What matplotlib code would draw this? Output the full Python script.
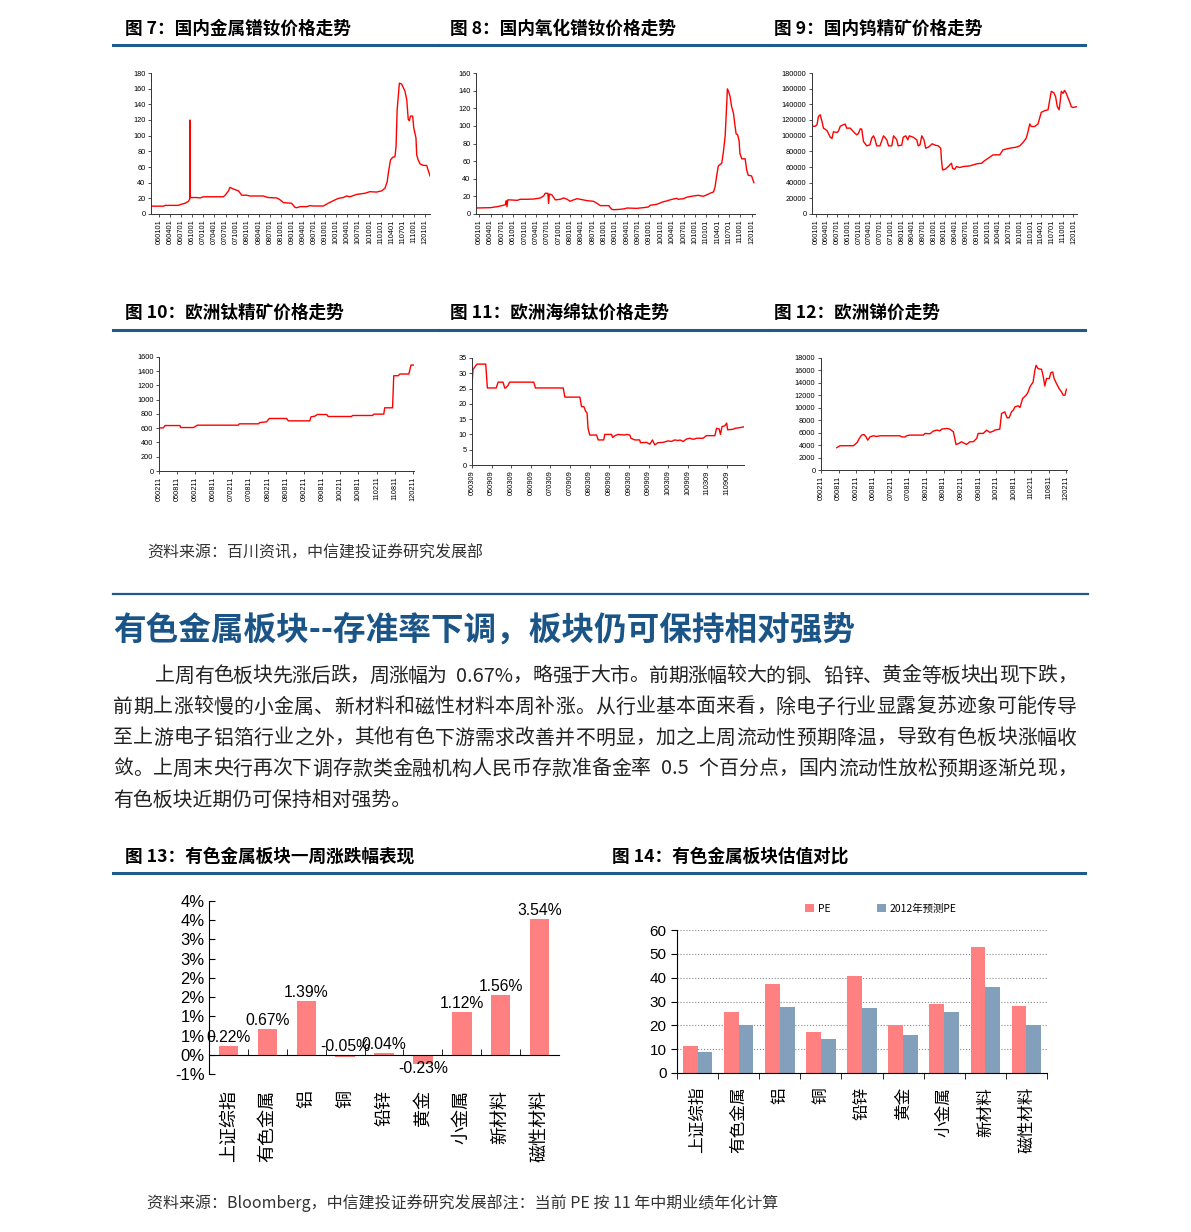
import re
import numpy as np
import matplotlib
matplotlib.use("Agg")
import matplotlib.pyplot as plt
from matplotlib.lines import Line2D
from matplotlib.ticker import FormatStrFormatter

plt.rcParams['font.family'] = ['Noto Sans CJK SC', 'DejaVu Sans']
plt.rcParams['axes.unicode_minus'] = False

W, H = 1191, 1232
NUM_FONT = ['Liberation Sans', 'DejaVu Sans']
RED = '#ff0000'
RULE = '#1f5a8c'
AXC = '#333333'

# ---------------- data ----------------
# x = months after the first tick label
q_labels = ["060101", "060401", "060701", "061001", "070101", "070401", "070701",
            "071001", "080101", "080401", "080701", "081001", "090101", "090401",
            "090701", "091001", "100101", "100401", "100701", "101001", "110101",
            "110401", "110701", "111001", "120101"]
h_labels = ["050211", "050811", "060211", "060811", "070211", "070811", "080211",
            "080811", "090211", "090811", "100211", "100811", "110211", "110811",
            "120211"]
ti_labels = ["050309", "050909", "060309", "060909", "070309", "070909", "080309",
             "080909", "090309", "090909", "100309", "100909", "110309", "110909"]

# fig 7: 国内金属镨钕
prnd_m = [-2.2, 1.2, 1.6, 5.2, 5.7, 7.0, 7.9, 8.3, 8.35, 8.4, 8.7, 10.2, 11.1, 12.0,
          17.4, 17.9, 18.8, 19.2, 20.1, 21.5, 22.4, 23.7, 24.6, 28.2, 29.6, 31.9,
          32.8, 33.7, 35.9, 36.8, 37.3, 38.2, 40.0, 40.9, 41.8, 44.5, 45.8, 47.2,
          48.6, 49.9, 50.8, 51.7, 53.5, 55.8, 57.1, 58.9, 60.3, 61.2, 61.8, 62.1,
          62.7, 63.3, 63.9, 64.2, 64.5, 65.1, 65.7, 66.6, 67.1, 67.5, 67.8, 68.1,
          68.7, 69.0, 69.6, 69.8, 70.2, 70.7, 71.6, 72.5, 72.9, 73.4]
prnd_v = [10, 10, 11, 11, 12, 13.7, 16, 19, 120, 21, 21, 21, 20.5, 22, 22, 24, 29.5,
          34, 32, 29.5, 24, 24, 23, 23, 21, 20.5, 18, 14.5, 13.7, 8.5, 8, 9.4, 9.4,
          10.7, 10.2, 10.2, 13.7, 17, 20, 21, 23, 22, 25, 26.5, 28.5, 28, 29.5, 33,
          41, 52, 69, 72.5, 73, 86, 133, 167, 166, 157, 146, 121, 119, 125, 125,
          110, 97, 75.5, 69, 64, 62, 62, 56, 48.6]

# fig 8: 国内氧化镨钕
prnd_ox_m = [-0.9, 2.9, 4.7, 6.0, 6.9, 7.1, 7.3, 7.5, 8.2, 10.0, 10.8, 12.6, 14.4,
             16.1, 17.0, 17.4, 18.1, 18.3, 18.5, 19.2, 20.1, 21.4, 22.3, 23.2, 24.0,
             24.9, 25.8, 26.7, 28.4, 29.3, 30.2, 31.1, 32.0, 34.2, 35.0, 35.5, 37.2,
             38.6, 39.0, 41.6, 43.4, 44.7, 45.2, 46.9, 48.7, 49.6, 50.4, 51.3, 52.2,
             52.6, 54.0, 54.8, 56.6, 57.9, 59.2, 60.1, 61.0, 61.9, 62.3, 62.8, 63.2,
             64.1, 64.5, 65.0, 65.2, 65.6, 65.9, 66.3, 66.7, 67.2, 67.5, 67.9, 68.3,
             68.7, 68.9, 69.4, 70.3, 70.7, 71.1, 72.0, 72.6]
prnd_ox_v = [6.8, 7.2, 8.3, 9.5, 10.6, 15, 8.3, 16, 16, 15.5, 16.7, 16.7, 17, 18.2,
             20.5, 23.5, 23.5, 12, 22.7, 21.6, 16, 16.7, 18.2, 16.7, 14.4, 16, 17.4,
             16.7, 15.2, 14.8, 14.4, 12.1, 9.5, 9.5, 5.3, 4.9, 5.3, 6.1, 6.8, 6.4,
             7.2, 8, 9.9, 11, 14, 14.8, 16, 17, 17.8, 16.7, 17.4, 19, 20.5, 21.2,
             20.1, 21.6, 23.5, 25, 30, 44.4, 54.6, 57.6, 69, 88, 105, 142, 139,
             133.5, 122, 114.5, 104, 91, 90, 83, 69, 62.6, 62.6, 50, 44, 43.2, 35.6]

# fig 9: 国内钨精矿 (thousand)
wconc_m = [-1.1, -0.2, 0.3, 0.7, 1.2, 1.7, 2.1, 3.1, 4.0, 4.5, 4.9, 5.9, 6.3, 6.8,
           7.7, 8.2, 8.6, 9.6, 10.5, 11.4, 11.9, 12.4, 12.8, 13.3, 14.2, 15.1, 15.6,
           16.1, 16.5, 17.0, 17.9, 18.9, 19.8, 20.3, 21.2, 21.7, 22.6, 23.0, 24.0,
           24.4, 25.1, 25.7, 26.1, 27.2, 28.2, 28.6, 29.1, 29.6, 30.2, 30.7, 31.4,
           31.9, 32.5, 33.3, 34.2, 34.9, 35.1, 35.4, 36.1, 37.0, 37.9, 38.2, 38.8,
           39.3, 40.2, 41.2, 43.0, 44.9, 46.3, 47.2, 48.6, 49.5, 51.4, 52.3, 54.2,
           56.0, 57.0, 57.9, 58.8, 59.3, 59.8, 60.2, 61.2, 62.1, 63.0, 64.0, 64.9,
           65.3, 65.8, 66.5, 67.0, 67.5, 68.0, 68.3, 68.6, 69.1, 69.5, 70.0, 70.5,
           70.9, 71.4, 71.8, 73.0]
wconc_k = [112, 112, 114, 124.5, 126.7, 118, 109.6, 106.6, 98, 96.4, 105, 104, 106,
           112, 114, 114.7, 109.6, 109.6, 105, 101, 103, 108.8, 108.3, 92.5, 87, 88.3,
           96.8, 99.8, 95.5, 87, 87, 99.8, 94.7, 87, 87, 99.8, 94.7, 87, 87.9, 98,
           99.8, 94.7, 99.8, 98, 94.7, 87, 88.3, 99.8, 94.7, 84, 85.3, 87, 89.6,
           87.9, 87, 84, 69, 56.3, 57, 60.6, 64.8, 58.4, 57, 60.6, 59.3, 60.6, 61.4,
           64, 64.8, 68.2, 72.5, 75.5, 75.5, 81.9, 84, 85.3, 87, 91.3, 96.8, 105,
           115, 111.7, 111.7, 115, 129.7, 132, 133, 143.7, 156.5, 155, 150, 137, 133,
           143.7, 156.5, 154, 157.8, 154, 148, 143.7, 137, 136, 137]

# fig 10: 欧洲钛精矿
ticonc_m = [0, 1.4, 2.0, 6.9, 7.2, 11.4, 12.2, 12.7, 26.2, 26.6, 32.9, 33.4, 35.6,
            36.5, 42.2, 42.8, 49.9, 50.3, 51.6, 52.4, 55.5, 56.0, 63.7, 64.1, 70.7,
            71.1, 74.4, 74.7, 77.3, 77.7, 79.2, 79.7, 82.7, 83.4, 84.3]
ticonc_v = [605, 605, 638, 638, 610, 610, 629, 643, 643, 662, 662, 680, 690, 737,
            737, 704, 704, 760, 770, 793, 793, 765, 765, 779, 779, 798, 798, 887,
            887, 1337, 1337, 1361, 1361, 1487, 1487]

# fig 11: 欧洲海绵钛
tisponge_m = [0, 0.3, 0.8, 1.5, 4.2, 4.7, 7.4, 8.0, 9.5, 10.0, 10.3, 11.0, 11.5,
              18.9, 19.4, 27.9, 28.4, 33.0, 33.5, 34.2, 34.8, 35.2, 35.5, 36.0, 38.1,
              38.6, 40.3, 40.6, 42.7, 43.0, 43.7, 44.7, 46.7, 47.2, 48.3, 48.6, 49.8,
              51.3, 51.5, 53.4, 54.4, 55.2, 55.9, 56.9, 58.5, 60.0, 61.0, 62.0, 63.1,
              63.6, 64.6, 65.6, 66.6, 67.7, 68.7, 70.7, 71.7, 74.3, 74.8, 75.6, 76.0,
              76.5, 77.3, 77.9, 78.2, 79.9, 80.4, 81.9, 83.2]
tisponge_v = [26.2, 31.2, 32, 33, 33, 25.2, 25.2, 27.1, 27.1, 25.2, 25.2, 26, 27.1,
              27.1, 25.2, 25.2, 22.2, 22.2, 19.1, 19.1, 17.5, 17, 12, 9.8, 9.8, 8.2,
              8.2, 10, 10, 9, 9.6, 10, 9.8, 10, 9.8, 8.75, 8.2, 8.2, 7.3, 7.4, 6.8,
              8.2, 6.6, 7.3, 7.4, 7.9, 7.7, 8.2, 8, 8.2, 7.7, 8.5, 8.75, 8.4, 8.75,
              8.75, 9.6, 9.6, 12, 11.8, 10, 12.6, 12.8, 13.7, 11.5, 11.7, 12, 12.2,
              12.5]

# fig 12: 欧洲锑
sb_m = [5.4, 5.9, 6.5, 11.1, 11.6, 12.4, 13.1, 13.9, 14.7, 15.4, 16.0, 16.8, 17.9,
        19.0, 20.2, 27.0, 27.6, 28.7, 29.3, 30.4, 35.0, 35.6, 37.3, 38.4, 39.6, 40.7,
        41.3, 43.0, 44.1, 45.3, 45.8, 46.2, 47.0, 48.1, 48.9, 49.8, 51.0, 52.1, 53.3,
        53.8, 55.5, 56.7, 57.8, 59.0, 59.5, 61.2, 61.8, 62.9, 63.7, 64.4, 65.2, 65.8,
        66.4, 67.5, 68.1, 69.0, 70.4, 70.9, 71.5, 72.6, 73.2, 73.6, 74.3, 75.5, 76.1,
        76.6, 77.2, 78.1, 78.7, 79.3, 79.8, 80.6, 81.5, 82.3, 82.9, 83.5, 84.0]
sb_v = [3580, 3740, 3900, 3900, 4110, 4430, 5070, 5610, 5710, 5340, 4800, 5340, 5500,
        5390, 5500, 5500, 5340, 5290, 5500, 5610, 5610, 5880, 5820, 6250, 6410, 6300,
        6570, 6680, 6570, 6140, 5070, 4110, 4220, 4540, 4330, 4110, 4540, 4540, 5070,
        5880, 5880, 6410, 6040, 6250, 6410, 6570, 9080, 9350, 8390, 8390, 9350, 9610,
        10150, 10310, 10040, 11480, 12120, 12550, 13350, 14150, 16020, 16820, 16290,
        16180, 14950, 13510, 14690, 14690, 15650, 15760, 14690, 13890, 13090, 12550,
        12020, 12020, 12980]

# fig 13 / 14
sectors = ["上证综指", "有色金属", "铝", "铜", "铅锌", "黄金", "小金属", "新材料", "磁性材料"]
week_chg = [0.22, 0.67, 1.39, -0.05, 0.04, -0.23, 1.12, 1.56, 3.54]
pct_ticks = [-0.5, 0, 0.5, 1.0, 1.5, 2.0, 2.5, 3.0, 3.5, 4.0]
pct_tick_labels = ["-1%", "0%", "1%", "1%", "2%", "2%", "3%", "3%", "4%", "4%"]
pe_now = [11.2, 25.4, 37.2, 17.1, 40.7, 20.0, 28.9, 53.0, 28.3]
pe_2012 = [8.9, 20.0, 27.8, 14.2, 27.2, 16.0, 25.4, 36.0, 20.0]

body_lines = [
    "上周有色板块先涨后跌，周涨幅为 0.67%，略强于大市。前期涨幅较大的铜、铅锌、黄金等板块出现下跌，",
    "前期上涨较慢的小金属、新材料和磁性材料本周补涨。从行业基本面来看，除电子行业显露复苏迹象可能传导",
    "至上游电子铝箔行业之外，其他有色下游需求改善并不明显，加之上周流动性预期降温，导致有色板块涨幅收",
    "敛。上周末央行再次下调存款类金融机构人民币存款准备金率 0.5 个百分点，国内流动性放松预期逐渐兑现，",
    "有色板块近期仍可保持相对强势。",
]

fig = plt.figure(figsize=(W / 100, H / 100), dpi=100)
renderer = fig.canvas.get_renderer()


def rect(l, t, r, b):
    return [l / W, 1 - b / H, (r - l) / W, (b - t) / H]


def ftext(x, y, s, **kw):
    kw.setdefault('va', 'center')
    return fig.text(x / W, 1 - y / H, s, **kw)


def justify_line(x0, x1, y, s, size, **kw):
    # spread the characters so the line fills x0..x1, like the report's text
    tokens = re.findall(r'[0-9.%]+| |.', s)
    widths = []
    for tok in tokens:
        if tok == ' ':
            widths.append(size * 100 / 72 * 0.5)
            continue
        t = ftext(0, 0, tok, fontsize=size, **kw)
        widths.append(t.get_window_extent(renderer).width)
        t.remove()
    gap = (x1 - x0 - sum(widths)) / (len(tokens) - 1)
    x = x0
    for tok, w in zip(tokens, widths):
        if tok != ' ':
            ftext(x, y, tok, fontsize=size, **kw)
        x += w + gap


def hrule(x0, x1, y, lw=2.2):
    fig.add_artist(Line2D([x0 / W, x1 / W], [1 - y / H, 1 - y / H],
                          transform=fig.transFigure, color=RULE, lw=lw))


def small_chart(box, xs, ys, ymax, ystep, xlim, step, labels):
    ax = fig.add_axes(rect(*box))
    ax.plot(xs, ys, color=RED, lw=1.0)
    ax.set_xlim(*xlim)
    ax.set_ylim(0, ymax)
    ax.set_yticks(np.arange(0, ymax + ystep / 2, ystep))
    ax.yaxis.set_major_formatter(FormatStrFormatter('%d'))
    ax.set_xticks(np.arange(len(labels)) * step)
    ax.set_xticklabels(labels, rotation=90)
    for s in ['top', 'right']:
        ax.spines[s].set_visible(False)
    for s in ['left', 'bottom']:
        ax.spines[s].set_color(AXC)
        ax.spines[s].set_linewidth(0.7)
    ax.tick_params(length=2.5, width=0.6, color=AXC, pad=1.5, labelsize=5.3)
    for lab in ax.get_xticklabels() + ax.get_yticklabels():
        lab.set_family(NUM_FONT)
    return ax


# ---------- row 1 ----------
ftext(125, 29, "图 7：国内金属镨钕价格走势", fontsize=12.7, weight='bold')
ftext(450, 29, "图 8：国内氧化镨钕价格走势", fontsize=12.7, weight='bold')
ftext(774, 29, "图 9：国内钨精矿价格走势", fontsize=12.7, weight='bold')
hrule(113, 438, 45)
hrule(440, 768, 45)
hrule(770, 1085, 45)

small_chart((151, 73, 430, 214), prnd_m, prnd_v, 180, 20, (-2.2, 73.4), 3, q_labels)
small_chart((476, 73, 755, 214), prnd_ox_m, prnd_ox_v, 160, 20, (-0.9, 72.9), 3, q_labels)
small_chart((812, 73, 1077, 214), wconc_m, np.array(wconc_k) * 1000, 180000, 20000,
            (-1.1, 73.0), 3, q_labels)

# ---------- row 2 ----------
ftext(125, 313, "图 10：欧洲钛精矿价格走势", fontsize=12.7, weight='bold')
ftext(450, 313, "图 11：欧洲海绵钛价格走势", fontsize=12.7, weight='bold')
ftext(774, 313, "图 12：欧洲锑价走势", fontsize=12.7, weight='bold')
hrule(113, 438, 330)
hrule(440, 768, 330)
hrule(770, 1085, 330)

small_chart((159, 357, 414, 471), ticonc_m, ticonc_v, 1600, 200, (0, 84.4), 6, h_labels)
small_chart((472, 358, 744, 465), tisponge_m, tisponge_v, 35, 5, (0, 83.2), 6, ti_labels)
small_chart((821, 358, 1067, 470), sb_m, sb_v, 18000, 2000, (0, 84.2), 6, h_labels)

ftext(147, 553, "资料来源：百川资讯，中信建投证券研究发展部", fontsize=11.5,
      color='#333333', style='italic')

# ---------- text section ----------
hrule(113, 1088, 594, lw=1.6)
ftext(113, 630, "有色金属板块--存准率下调，板块仍可保持相对强势", fontsize=23.5,
      weight='bold', color='#1b5588')
for i, line in enumerate(body_lines):
    y = 676 + i * 31
    if i < len(body_lines) - 1:
        justify_line(155 if i == 0 else 113, 1077, y, line, 14.3, color='#222222')
    else:
        ftext(113, y, line, fontsize=14.3, color='#222222')

# ---------- row 3 ----------
ftext(125, 857, "图 13：有色金属板块一周涨跌幅表现", fontsize=12.7, weight='bold')
ftext(612, 857, "图 14：有色金属板块估值对比", fontsize=12.7, weight='bold')
hrule(113, 610, 873)
hrule(612, 1085, 873)

# fig 13
ax = fig.add_axes(rect(209, 901, 559, 1074))
x = np.arange(len(sectors))
ax.bar(x, week_chg, width=0.5, color='#ff8080')
ax.set_xlim(-0.5, len(sectors) - 0.5)
ax.set_ylim(-0.5, 4.0)
ax.spines['bottom'].set_position(('data', 0))
for s in ['top', 'right']:
    ax.spines[s].set_visible(False)
ax.set_yticks(pct_ticks)
ax.set_yticklabels(pct_tick_labels, family=NUM_FONT, fontsize=12)
ax.set_xticks(x)
ax.set_xticklabels(sectors, rotation=90, fontsize=13)
ax.set_xticks(x[:-1] + 0.5, minor=True)
ax.tick_params(axis='x', which='major', length=0, pad=25)
ax.tick_params(axis='x', which='minor', length=4, direction='in')
ax.tick_params(axis='y', length=4, direction='in', pad=3)
for xi, v in zip(x, week_chg):
    ly = v - 0.12 if v < -0.1 else max(v, 0) + 0.22
    ax.text(xi, ly, f"{v:.2f}%", ha='center', va='center', fontsize=11.3, family=NUM_FONT)

# fig 14
ax = fig.add_axes(rect(677, 930, 1047, 1073))
bw = 0.36
ax.bar(x - bw / 2, pe_now, bw, color='#ff8080', label='PE')
ax.bar(x + bw / 2, pe_2012, bw, color='#829fbb', label='2012年预测PE')
ax.set_xlim(-0.5, len(sectors) - 0.5)
ax.set_ylim(0, 60)
ax.set_yticks(np.arange(0, 61, 10))
ax.yaxis.grid(True, linestyle=':', color='#888888', lw=0.8)
ax.set_axisbelow(True)
for s in ['top', 'right']:
    ax.spines[s].set_visible(False)
ax.set_xticks(x)
ax.set_xticklabels(sectors, rotation=90, fontsize=12)
ax.set_xticks(np.arange(len(sectors) + 1) - 0.5, minor=True)
ax.tick_params(axis='x', which='major', length=0, pad=10)
ax.tick_params(axis='x', which='minor', length=4)
ax.tick_params(axis='y', length=4, labelsize=11)
for lab in ax.get_yticklabels():
    lab.set_family(NUM_FONT)
ax.legend(loc='center left', bbox_to_anchor=(796 / W, 1 - 909 / H),
          bbox_transform=fig.transFigure, ncol=2, frameon=False, fontsize=7.5,
          handlelength=0.8, handleheight=0.8, handletextpad=0.4, columnspacing=4.5)

ftext(147, 1203, "资料来源：Bloomberg，中信建投证券研究发展部注：当前 PE 按 11 年中期业绩年化计算",
      fontsize=11.5, color='#333333', style='italic')

fig.savefig("out.png", dpi=100)
